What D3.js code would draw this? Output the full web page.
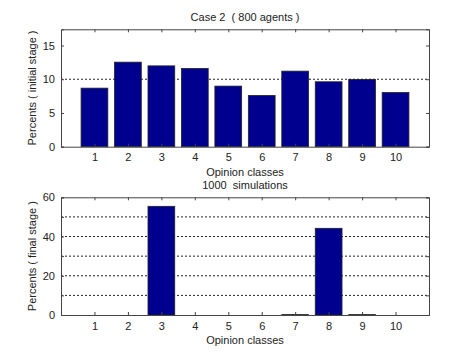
<!DOCTYPE html>
<html><head><meta charset="utf-8">
<script src="https://cdn.jsdelivr.net/npm/d3@7"></script>
<style>
body{margin:0;background:#fff;}
text{font-family:"Liberation Sans",Arial,sans-serif;fill:#222;}
</style></head>
<body><svg id="c" width="474" height="355"></svg>
<script>
const categories = [1,2,3,4,5,6,7,8,9,10];
const initialValues = [8.68,12.53,11.98,11.6,8.98,7.6,11.2,9.62,9.97,8.04];
const finalValues = [0,0,55.4,0,0,0,0.2,44.2,0.2,0];
const initialTicks = [0,5,10,15];
const initialGrid = [10];
const finalTicks = [0,10,20,30,40,50,60];
const finalTickLabels = [0,20,40,60];
const finalGrid = [10,20,30,40,50];

const svg = d3.select("#c");
const L = 61, R = 429;

function panel(opts){
  const {top,bottom,ymax,values,ticks,labels,grid,ylabel,title,titleY} = opts;
  const x = d3.scaleLinear().domain([0,11]).range([L,R]);
  const y = d3.scaleLinear().domain([0,ymax]).range([bottom,top]);
  const g = svg.append("g");
  // grid
  g.selectAll(".grid").data(grid).join("line")
    .attr("x1",L).attr("x2",R).attr("y1",d=>y(d)).attr("y2",d=>y(d))
    .attr("stroke","#222").attr("stroke-width",1).attr("stroke-dasharray","2,2");
  // bars
  const bw = x(0.8)-x(0);
  g.selectAll(".bar").data(categories).join("rect")
    .attr("x",(d)=>x(d)-bw/2).attr("width",bw)
    .attr("y",(d,i)=>y(values[i])).attr("height",(d,i)=>y(0)-y(values[i]))
    .attr("fill","#00008f").attr("stroke","#222").attr("stroke-width",0.8);
  // axes
  const ax = g.append("g").attr("transform",`translate(0,${bottom})`)
    .call(d3.axisBottom(x).tickValues(categories).tickSize(-3).tickPadding(7));
  const axT = g.append("g").attr("transform",`translate(0,${top})`)
    .call(d3.axisTop(x).tickValues(categories).tickSize(-3).tickFormat(""));
  const ay = g.append("g").attr("transform",`translate(${L},0)`)
    .call(d3.axisLeft(y).tickValues(ticks).tickSize(-3).tickPadding(6)
      .tickFormat(d=>labels.includes(d)?d:""));
  const ayR = g.append("g").attr("transform",`translate(${R},0)`)
    .call(d3.axisRight(y).tickValues(ticks).tickSize(-3).tickFormat(""));
  [ax,axT,ay,ayR].forEach(a=>{
    a.select(".domain").attr("stroke","#444");
    a.selectAll(".tick line").attr("stroke","#444");
    a.selectAll("text").style("font-size","11px").attr("fill","#222");
  });
  // x label
  g.append("text").attr("x",(L+R)/2).attr("y",bottom+29).attr("text-anchor","middle")
    .style("font-size","11px").text("Opinion classes");
  g.append("text").attr("transform",`translate(36,${(top+bottom)/2}) rotate(-90)`)
    .attr("text-anchor","middle").style("font-size","11px").text(ylabel);
  g.append("text").attr("x",(L+R)/2).attr("y",titleY).attr("text-anchor","middle")
    .style("font-size","11px").attr("xml:space","preserve").text(title);
}

panel({top:29.3,bottom:146.7,ymax:17.4,values:initialValues,ticks:initialTicks,labels:initialTicks,
  grid:initialGrid,ylabel:"Percents ( initial stage )",title:"Case 2  ( 800 agents )",titleY:21});
panel({top:197.3,bottom:315,ymax:60,values:finalValues,ticks:finalTicks,labels:finalTickLabels,
  grid:finalGrid,ylabel:"Percents ( final stage )",title:"1000  simulations",titleY:189});
</script></body></html>
